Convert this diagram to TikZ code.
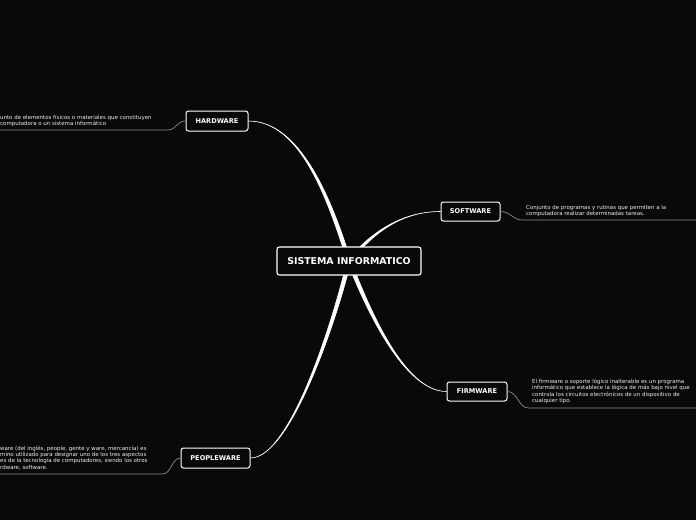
\documentclass[tikz,border=0pt]{standalone}
\usepackage{fontspec}
\setmainfont{DejaVu Sans}
\definecolor{bg}{HTML}{08090B}
\definecolor{twiggray}{HTML}{8A8A8A}
\definecolor{notetext}{HTML}{F0F0F0}

\begin{document}
\begin{tikzpicture}[x=1pt, y=-1pt,
        topic/.style={draw=white, line width=1pt, rounded corners=2.5pt, fill=bg, text=white, inner sep=0pt, font=\bfseries\fontsize{6.6}{8}\selectfont},
        note/.style={text=notetext, font=\fontsize{5.45}{6.4}\selectfont, align=left, inner sep=0pt, anchor=north west},
        branch/.style={fill=white, draw=white, line width=0.6pt},
        twig/.style={draw=twiggray, line width=0.7pt}]
        \fill [bg] (0,0) rectangle (696,520);
        \useasboundingbox (0,0) rectangle (696,520);

        \coordinate (hub) at (349,261);
        \coordinate (hwend) at (0,130);
        \coordinate (swend) at (696,220);
        \coordinate (fwend) at (696,408);
        \coordinate (pwend) at (0,474);

        \node [topic, minimum width=62pt, minimum height=20pt] (hw) at (217,121) {HARDWARE};
        \node [topic, minimum width=59pt, minimum height=19pt] (sw) at (470.5,211.5) {SOFTWARE};
        \node [topic, minimum width=60pt, minimum height=19pt] (fw) at (477,391.5) {FIRMWARE};
        \node [topic, minimum width=69pt, minimum height=20pt] (pw) at (215.5,458) {PEOPLEWARE};

        % tapered main branches
        \filldraw [branch] ([xshift=-2]hub) .. controls +(-19,-61) and +(52,0) .. (hw.east)
            .. controls +(52,0) and +(-19,-61) .. ([xshift=2]hub) -- cycle;
        \filldraw [branch] ([xshift=-2]hub) .. controls +(21,-26) and +(-41,0) .. (sw.west)
            .. controls +(-41,0) and +(21,-26) .. ([xshift=2]hub) -- cycle;
        \filldraw [branch] ([xshift=-2]hub) .. controls +(19,49) and +(-42,0) .. (fw.west)
            .. controls +(-42,0) and +(19,49) .. ([xshift=2]hub) -- cycle;
        \filldraw [branch] ([xshift=-2]hub) .. controls +(-14,59) and +(40,0) .. (pw.east)
            .. controls +(40,0) and +(-14,59) .. ([xshift=2]hub) -- cycle;

        \node [topic, line width=1.1pt, minimum width=144pt, minimum height=28pt, font=\bfseries\fontsize{9.4}{11}\selectfont] (root) at (hub) {SISTEMA INFORMATICO};

        % notes
        \node [note] (hwnote) at (0,114.6) {unto de elementos físicos o materiales que constituyen\\computadora o un sistema informático};
        \node [note] (swnote) at (526,205.2) {Conjunto de programas y rutinas que permiten a la\\computadora realizar determinadas tareas.};
        \node [note] (fwnote) at (532,379) {El firmware o soporte lógico inalterable es un programa\\informático que establece la lógica de más bajo nivel que\\controla los circuitos electrónicos de un dispositivo de\\cualquier tipo.};
        \node [note] (pwnote) at (0,445.5) {ware (del inglés, people, gente y ware, mercancía) es\\mino utilizado para designar uno de los tres aspectos\\es de la tecnología de computadores, siendo los otros\\rdware, software.};

        \draw [twig] (hw.west) .. controls +(-9,0) and +(9,0) .. ++(-18,9) -- (hwend);
        \draw [twig] (sw.east) .. controls +(10,0) and +(-10,0) .. ++(22,8.5) -- (swend);
        \draw [twig] (fw.east) .. controls +(10,0) and +(-10,0) .. ++(21,16.5) -- (fwend);
        \draw [twig] (pw.west) .. controls +(-9,0) and +(9,0) .. ++(-18,16) -- (pwend);
    \end{tikzpicture}
\end{document}
